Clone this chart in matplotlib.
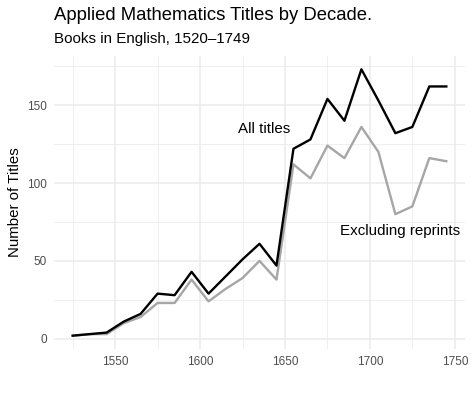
import numpy as np
import matplotlib
matplotlib.use("Agg")
import matplotlib.pyplot as plt
import matplotlib.ticker as tkr

plt.rcParams['font.family'] = ['Liberation Sans', 'DejaVu Sans']

decades = [1525, 1535, 1545, 1555, 1565, 1575, 1585, 1595, 1605, 1615, 1625, 1635,
           1645, 1655, 1665, 1675, 1685, 1695, 1705, 1715, 1725, 1735, 1745]
allTitles = [2, 3, 4, 11, 16, 29, 28, 43, 29, 40, 51, 61,
             47, 122, 128, 154, 140, 173, 153, 132, 136, 162, 162]
exclReprints = [2, 3, 3, 10, 14, 23, 23, 38, 24, 32, 39, 50,
                38, 112, 103, 124, 116, 136, 120, 80, 85, 116, 114]

fig = plt.figure(figsize=(4.74, 3.94), dpi=100)
ax = fig.add_axes([54/474, 45/394, 411/474, 293/394])

ax.plot(decades, exclReprints, color='#a6a6a6', lw=1.7, zorder=3)
ax.plot(decades, allTitles, color='black', lw=1.7, zorder=4)

ax.set_xlim(1514, 1756)
ax.set_ylim(-6.55, 181.55)
ax.xaxis.set_major_locator(tkr.MultipleLocator(50))
ax.xaxis.set_minor_locator(tkr.FixedLocator([1525, 1575, 1625, 1675, 1725]))
ax.yaxis.set_major_locator(tkr.MultipleLocator(50))
ax.yaxis.set_minor_locator(tkr.FixedLocator([25, 75, 125, 175]))

ax.grid(which='major', color='#ebebeb', lw=1.1)
ax.grid(which='minor', color='#ebebeb', lw=0.55)
ax.set_axisbelow(True)
for s in ax.spines.values():
    s.set_visible(False)
ax.tick_params(which='both', length=0)
ax.tick_params(axis='both', labelsize=8.5, labelcolor='#4d4d4d', pad=5)

ax.set_ylabel('Number of Titles', fontsize=10.8, labelpad=4)

ax.text(1638, 135, 'All titles', fontsize=10.9, ha='center', va='center')
ax.text(1718, 69, 'Excluding reprints', fontsize=10.9, ha='center', va='center')

fig.text(54/474, 1 - 20.5/394, 'Applied Mathematics Titles by Decade.', fontsize=13.3,
         ha='left', va='baseline')
fig.text(54/474, 1 - 43/394, 'Books in English, 1520\u20131749', fontsize=10.9,
         ha='left', va='baseline')

fig.savefig('out.png', dpi=100)
